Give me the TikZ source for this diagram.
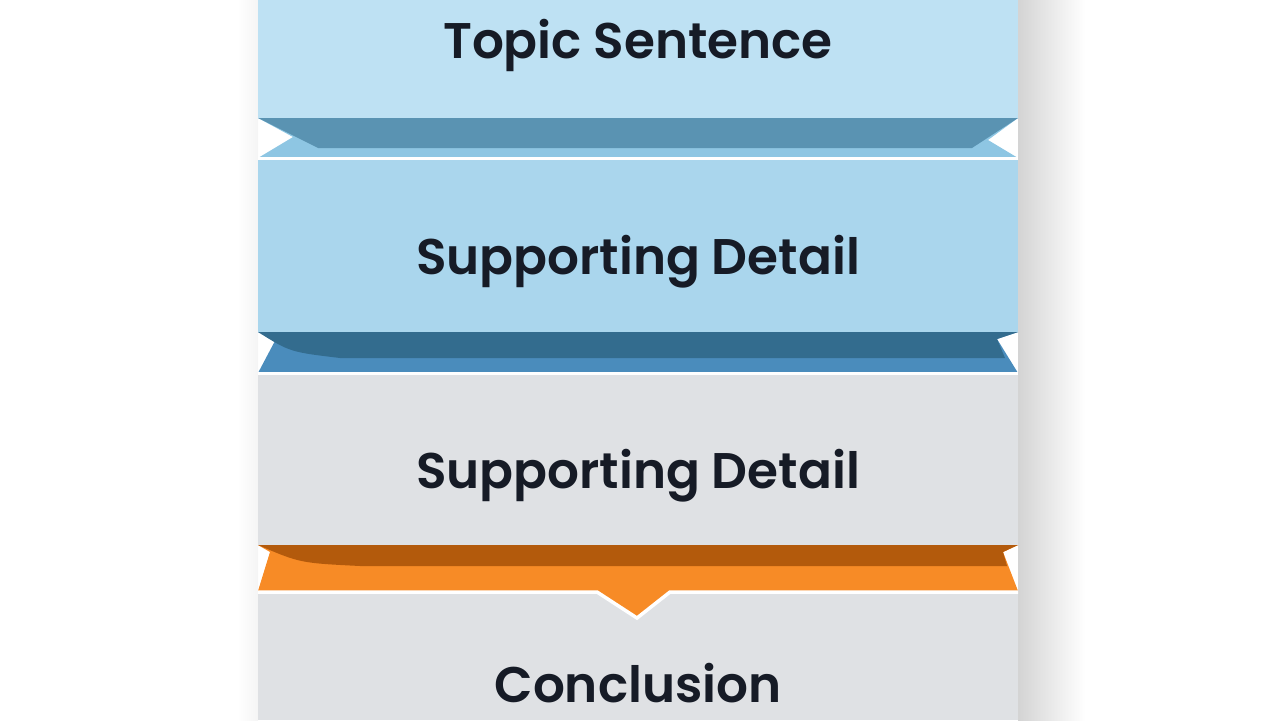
\documentclass[tikz,border=0pt]{standalone}
\usepackage{fontspec}
\setmainfont{Poppins}[BoldFont={Poppins SemiBold}]
\definecolor{topblue}{HTML}{BEE1F3}
\definecolor{midblue}{HTML}{AAD6ED}
\definecolor{edgeblue}{HTML}{5A93B2}
\definecolor{edgeblue2}{HTML}{8EC6E3}
\definecolor{deepblue}{HTML}{336C8E}
\definecolor{deepblue2}{HTML}{4A8CBC}
\definecolor{paper}{HTML}{DFE1E4}
\definecolor{rust}{HTML}{B35A0C}
\definecolor{amber}{HTML}{F78B26}
\definecolor{ink}{HTML}{161B26}
\begin{document}
\begin{tikzpicture}[x=0.02cm,y=-0.02cm,
  label/.style={font=\fontsize{28.5}{28.5}\selectfont\bfseries,text=ink,
    inner sep=0pt,anchor=base},
  gap/.style={white,line width=0.07cm}]
\useasboundingbox (0,0) rectangle (1280,720);
\shade[left color=black!17,right color=white] (1018,0) rectangle (1085,720);
\shade[left color=white,right color=black!4] (238,0) rectangle (258,720);

\fill[topblue] (258,0) rectangle (1018,118);
\fill[edgeblue2] (258,118) -- (1018,118) -- (988,140) -- (1018,158)
  -- (258,158) -- (293,137) -- cycle;
\fill[edgeblue] (258,118) -- (1018,118) -- (972,148) -- (318,148) -- cycle;
\draw[gap] (258,159) -- (1018,159);

\fill[midblue] (258,160) rectangle (1018,332);
\fill[deepblue2] (258,332) -- (1018,332) -- (997,339) -- (1018,373)
  -- (258,373) -- (276,339) -- cycle;
\fill[deepblue] (258,332) -- (1018,332) -- (997,339) -- (1005,358)
  -- (340,358) .. controls (290,352) .. (258,332) -- cycle;
\draw[gap] (258,374) -- (1018,374);

\fill[paper] (258,375) rectangle (1018,545);
\fill[paper] (258,592) rectangle (1018,720);
\fill[amber] (258,545) -- (1018,545) -- (1003,552) -- (1018,591)
  -- (670,591) -- (637,617) -- (597,591) -- (258,591) -- (270,552) -- cycle;
\fill[rust] (258,545) -- (1018,545) -- (1003,552) -- (1007,566)
  -- (360,566) .. controls (300,563) .. (258,545) -- cycle;
\draw[gap] (258,592) -- (597,592) -- (637,618) -- (670,592) -- (1018,592);

\node[label] (topic) at (638,58) {Topic Sentence};
\node[label] (detail1) at (638,274) {Supporting Detail};
\node[label] (detail2) at (638,488) {Supporting Detail};
\node[label] (conclusion) at (638,702) {Conclusion};
\end{tikzpicture}
\end{document}
